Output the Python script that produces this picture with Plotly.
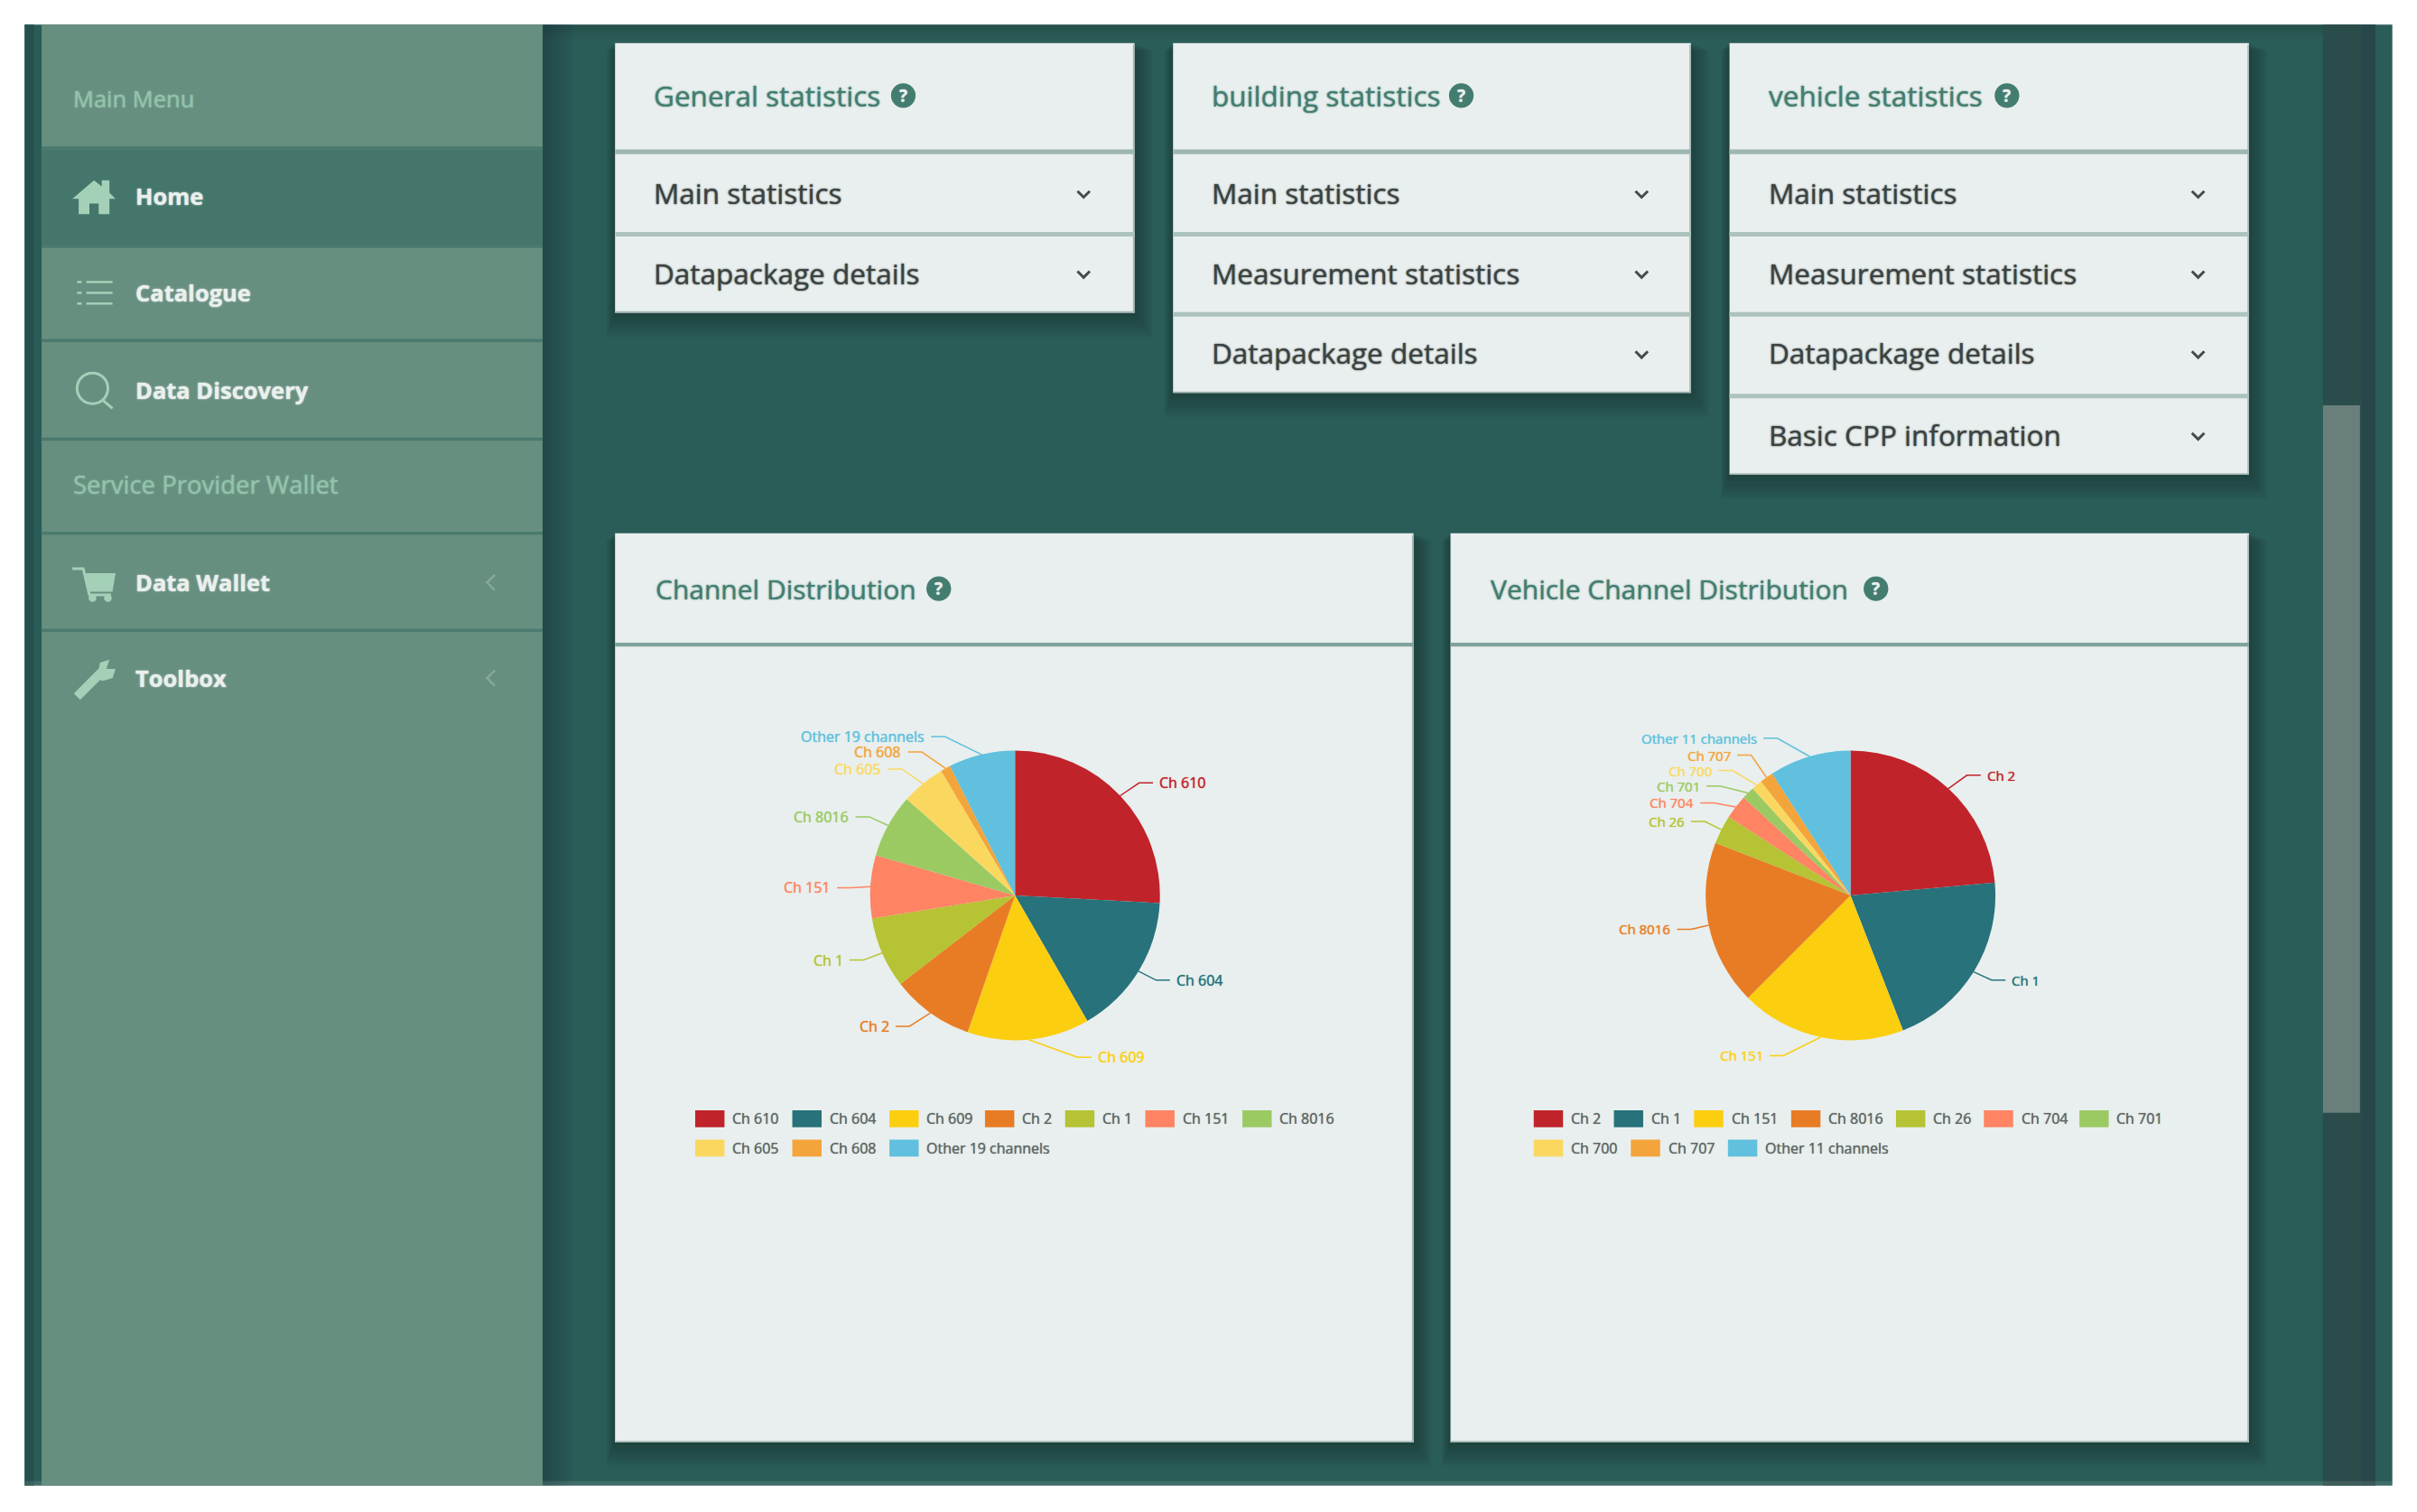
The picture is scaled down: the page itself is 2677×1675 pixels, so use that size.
import math
import plotly.graph_objects as go

W, H = 2677, 1675
S = W / 1568  # measured everything on the 1568 wide view of the screenshot
PAGE = 8  # body margin of the written page, the figure starts there

# pie data
colors = ["#c1232b", "#27727b", "#fcce10", "#e87c25", "#b5c334",
          "#fe8463", "#9bca63", "#fad860", "#f3a43b", "#60c0dd"]

channels_all = ["Ch 610", "Ch 604", "Ch 609", "Ch 2", "Ch 1", "Ch 151",
                "Ch 8016", "Ch 605", "Ch 608", "Other 19 channels"]
values_all = [25.8, 15.8, 13.6, 9.2, 7.9, 7.0, 7.1, 4.9, 1.1, 7.4]

channels_vehicle = ["Ch 2", "Ch 1", "Ch 151", "Ch 8016", "Ch 26", "Ch 704",
                    "Ch 701", "Ch 700", "Ch 707", "Other 11 channels"]
values_vehicle = [23.6, 20.5, 18.4, 18.4, 3.2, 2.7, 1.4, 1.2, 1.5, 9.1]

# page text
menu_items = ["Home", "Catalogue", "Data Discovery", "Data Wallet", "Toolbox"]
menu_y = [127, 190, 253, 378, 440]
menu_heads = ["Main Menu", "Service Provider Wallet"]
menu_heads_y = [64, 314]
menu_heads_size = [25.5, 27.5]
menu_lines_y = [96, 160, 221, 285, 346, 409]

card_titles = ["General statistics", "building statistics", "vehicle statistics"]
card_x = [399, 761, 1122]
card_rows = [
    ["Main statistics", "Datapackage details"],
    ["Main statistics", "Measurement statistics", "Datapackage details"],
    ["Main statistics", "Measurement statistics", "Datapackage details", "Basic CPP information"],
]
row_y = [126, 178, 230, 283]
help_x = [586, 948, 1302]

# label placement beside the pies (x of text edge, y of text)
label_x_all = [751, 762, 711, 578, 548, 540, 552, 573, 586, 601]
label_y_all = [508, 636, 686, 666, 623, 576, 530, 499, 488, 478]
label_x_vehicle = [1288, 1304, 1145, 1085, 1094, 1100, 1104, 1112, 1124, 1141]
label_y_vehicle = [503, 636, 685, 603, 533, 521, 510, 500, 490, 479]

legend_x_all = [451, 514, 577, 639, 691, 743, 806, 451, 514, 577]
legend_x_vehicle = [995, 1047, 1099, 1162, 1230, 1287, 1349, 995, 1058, 1121]
legend_y = [726] * 7 + [745] * 3

FONT = "Open Sans"
BG = "#2b5d58"
SIDE = "#678f80"
CARD = "#e9efee"
TITLE = "#437d70"
ICON = "#a5d0b8"

shapes = []
notes = []


def rect(x0, y0, x1, y1, fill, line=None, lw=0):
    shapes.append(dict(type="rect", xref="x", yref="y", layer="below",
                       x0=x0 * S, y0=y0 * S, x1=x1 * S, y1=y1 * S,
                       fillcolor=fill, line=dict(color=line or fill, width=lw)))


def path(points, fill=None, line=None, lw=0, close=True):
    d = "M " + " L ".join(f"{x * S:.1f},{y * S:.1f}" for x, y in points)
    if close:
        d += " Z"
    shapes.append(dict(type="path", xref="x", yref="y", layer="below", path=d,
                       fillcolor=fill or "rgba(0,0,0,0)",
                       line=dict(color=line or "rgba(0,0,0,0)", width=lw)))


def circle(cx, cy, r, fill=None, line=None, lw=0):
    shapes.append(dict(type="circle", xref="x", yref="y", layer="below",
                       x0=(cx - r) * S, y0=(cy - r) * S, x1=(cx + r) * S, y1=(cy + r) * S,
                       fillcolor=fill or "rgba(0,0,0,0)",
                       line=dict(color=line or "rgba(0,0,0,0)", width=lw)))


def text(x, y, s, size, color, anchor="left", bold=False, blur=2):
    notes.append(dict(xref="x", yref="y", x=x * S, y=y * S, text=f"<b>{s}</b>" if bold else s,
                      showarrow=False, xanchor=anchor, yanchor="middle",
                      font=dict(family=FONT, size=size, color=color,
                                shadow=f"0 0 {blur}px {color}")))


def shadow(x0, y0, x1, y1):
    for i in range(10, 0, -1):
        g = i * 1.6
        rect(x0 - g * 0.35, y0 + g * 0.3, x1 + g * 0.75, y1 + g, "rgba(12,32,44,0.05)")


def card(x0, y0, x1, y1):
    shadow(x0, y0, x1, y1)
    rect(x0, y0, x1, y1, CARD)
    rect(x1 - 1, y0 + 1, x1, y1, "#a3b6b3")
    rect(x0, y1 - 1, x1, y1, "#a3b6b3")


def help_icon(cx, cy):
    circle(cx, cy, 8, TITLE)
    text(cx, cy, "?", 19, CARD, "center", True, blur=1)


# page frame
rect(16, 16, 1552, 964, BG)
rect(16, 16, 22, 964, "#26504e")
for i in range(6):
    rect(352, 16, 352 + (6 - i) * 3.2, 964, "rgba(25,45,60,0.07)")
    rect(353, 16, 1507, 16 + (6 - i) * 1.6, "rgba(25,45,60,0.04)")
rect(1507, 16, 1532, 964, "#2a4c4a")
rect(1532, 16, 1541, 964, "#27474a")
rect(1507, 263, 1531, 722, "#697f7c")
rect(16, 961, 1552, 964, "rgba(255,255,255,0.10)")

# sidebar
rect(27, 16, 352, 964, SIDE)
rect(27, 97, 352, 160, "#44766b")
for y in menu_lines_y:
    rect(27, y - 1, 352, y + 1, "#4a7a6e")
for s, y, size in zip(menu_heads, menu_heads_y, menu_heads_size):
    text(46, y, s, size, "#93c4ab")
for s, y in zip(menu_items, menu_y):
    text(86.5, y, s, 25.5, "#eaf0ed", bold=True)
for y in [378, 440]:
    path([(321, y - 5), (316, y), (321, y + 5)], line="#85a99a", lw=2.5, close=False)

# sidebar icons
path([(47, 129), (61, 117), (66, 121), (66, 117), (71, 117), (71, 125), (75, 129),
      (71, 129), (71, 139), (64, 139), (64, 132), (58, 132), (58, 139), (51, 139), (51, 129)], ICON)
for y in [183, 190, 197]:
    path([(50, y), (53, y)], line=ICON, lw=2.5, close=False)
    path([(56, y), (73, y)], line=ICON, lw=2.5, close=False)
circle(60, 252, 10, line=ICON, lw=3)
path([(67, 260), (73, 265)], line=ICON, lw=3, close=False)
path([(47, 369), (54, 369), (58, 386), (72, 386)], line=ICON, lw=3, close=False)
path([(55, 372), (75, 372), (73, 384), (58, 384)], ICON)
circle(60, 388, 2.5, ICON)
circle(70, 388, 2.5, ICON)
path([(50, 452), (66, 436)], line=ICON, lw=10, close=False)
path([(63, 438), (65, 430), (71, 428), (69, 434), (75, 434), (73, 440), (66, 442)], ICON)

# statistics cards
for i, title in enumerate(card_titles):
    x0 = card_x[i]
    x1 = x0 + 337 if i != 1 else 1097
    rows = card_rows[i]
    card(x0, 28, x1, row_y[len(rows) - 1] + 25)
    rect(x0, 97, x1, 100, "#9db6b1")
    text(x0 + 24, 62, title, 31.5, TITLE)
    help_icon(help_x[i], 62)
    for j, row in enumerate(rows):
        if j > 0:
            rect(x0, row_y[j] - 27.5, x1, row_y[j] - 24.5, "#adc3be")
        text(x0 + 24, row_y[j] - 1, row, 31.5, "#3b4241")
        cx = x0 + 304
        path([(cx - 4, row_y[j] - 2), (cx, row_y[j] + 2), (cx + 4, row_y[j] - 2)],
             line="#444b4a", lw=3, close=False)

# distribution cards
dist_titles = ["Channel Distribution", "Vehicle Channel Distribution"]
dist_x = [(399, 917), (941, 1459)]
dist_help = [609, 1217]
for (x0, x1), title, hx in zip(dist_x, dist_titles, dist_help):
    card(x0, 346, x1, 936)
    rect(x0, 417, x1, 419.5, "#7fa39c")
    text(x0 + 25, 382, title, 30, TITLE)
    help_icon(hx, 382)


def add_pie(fig, names, values, cx, cy, r, label_x, label_y, legend_x, label_size):
    fig.add_trace(go.Pie(
        labels=names, values=values, sort=False, direction="clockwise", rotation=0,
        marker=dict(colors=colors, line=dict(width=0)), textinfo="none", hoverinfo="skip",
        showlegend=False,
        domain=dict(x=[((cx - r) * S - PAGE) / FIG_W, ((cx + r) * S - PAGE) / FIG_W],
                    y=[1 - ((cy + r) * S - PAGE) / FIG_H, 1 - ((cy - r) * S - PAGE) / FIG_H]),
    ))
    total = sum(values)
    acc = 0
    for i, (name, v) in enumerate(zip(names, values)):
        mid = (acc + v / 2) / total * 2 * math.pi
        acc += v
        ex, ey = cx + r * math.sin(mid), cy - r * math.cos(mid)
        right = math.sin(mid) > 0
        tx, ty = label_x[i], label_y[i]
        sign = -1 if right else 1
        path([(ex, ey), (tx + sign * 12, ty), (tx + sign * 3, ty)],
             line=colors[i], lw=1.5, close=False)
        text(tx, ty, name, label_size, colors[i], "left" if right else "right", blur=1)
        # legend
        lx, ly = legend_x[i], legend_y[i]
        rect(lx, ly - 5.5, lx + 19, ly + 5.5, colors[i])
        text(lx + 23, ly, name, 16, "#5f6665", blur=1)


FIG_W, FIG_H = W - 2 * PAGE, H - 2 * PAGE

fig = go.Figure()
# empty trace so the pixel axes exist for the shapes
fig.add_trace(go.Scatter(x=[], y=[], hoverinfo="skip", showlegend=False))
add_pie(fig, channels_all, values_all, 658.5, 581, 94, label_x_all, label_y_all, legend_x_all, 16)
add_pie(fig, channels_vehicle, values_vehicle, 1200.5, 581, 94, label_x_vehicle, label_y_vehicle, legend_x_vehicle, 15)

fig.update_layout(
    width=FIG_W, height=FIG_H, margin=dict(l=0, r=0, t=0, b=0),
    paper_bgcolor="white", plot_bgcolor="rgba(0,0,0,0)", showlegend=False,
    xaxis=dict(range=[PAGE, PAGE + FIG_W], visible=False, fixedrange=True),
    yaxis=dict(range=[PAGE + FIG_H, PAGE], visible=False, fixedrange=True),
    shapes=shapes, annotations=notes,
)
fig.write_html("out.html")
